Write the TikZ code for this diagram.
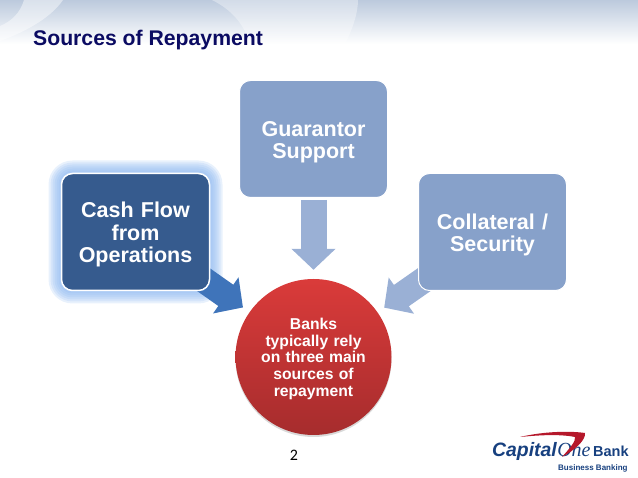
\documentclass[tikz,border=0pt]{standalone}
\usepackage{fontspec}
\setmainfont{Liberation Sans}
\newfontfamily\pagefont{Carlito}
\newfontfamily\swashfont{Liberation Serif}
\usepackage{tikz}
\usetikzlibrary{arrows.meta, backgrounds, shadows}
\definecolor{titlenavy}{HTML}{0B0B62}
\definecolor{softblue}{HTML}{87A1CA}
\definecolor{deepblue}{HTML}{365B8E}
\definecolor{glowblue}{HTML}{8DB8F0}
\definecolor{arrowsoft}{HTML}{9AB0D5}
\definecolor{arrowdeep}{HTML}{3F74BA}
\definecolor{logonavy}{HTML}{17407F}
\definecolor{logored}{HTML}{B5182B}
\definecolor{bandblue}{HTML}{BCCADD}
\definecolor{redtop}{HTML}{DA3B3A}
\definecolor{redbottom}{HTML}{A62C2D}
\tikzstyle{source} = [rectangle, rounded corners=11pt, minimum width=148pt, minimum height=117pt, inner sep=0pt, text width=140pt, align=center, text=white, fill=softblue, draw=white, line width=1pt, font=\bfseries\fontsize{21.5}{22.5}\selectfont, execute at begin node=\rule{0pt}{21pt}]
\tikzstyle{active} = [fill=deepblue, line width=1.5pt]
\tikzstyle{glow} = [rectangle, fill=glowblue, opacity=.2, inner sep=0pt]
\tikzstyle{result} = [circle, minimum size=156pt, inner sep=0pt, text width=124pt, align=center, text=white, top color=redtop, bottom color=redbottom, font=\bfseries\fontsize{15.7}{16.8}\selectfont, execute at begin node=\rule{0pt}{15pt}, drop shadow={shadow xshift=0pt, shadow yshift=-2pt, opacity=.3}]
\tikzstyle{block} = [line width=26pt, -{Triangle[length=21pt,width=43pt]}, color=arrowsoft]
\tikzstyle{logotext} = [inner sep=0pt, anchor=base west, text=logonavy]

\begin{document}
\begin{tikzpicture}[x=1pt, y=-1pt, node distance=93pt]
        \useasboundingbox (0,0) rectangle (638,478);

        % boxes
        \node[source] (Guarantor) at (313.5,139) {Guarantor\\Support};
        \node[source, below of = Guarantor, xshift = 179pt] (Collateral) {Collateral /\\Security};
        \node[source, active, below of = Guarantor, xshift = -178pt] (CashFlow) {Cash Flow\\from\\Operations};
        \node[result, below of = Guarantor, node distance = 218pt] (Banks) {Banks\\typically rely\\on three main\\sources of\\repayment};

        % header text
        \node[inner sep=0pt, anchor=base west, text=titlenavy, font=\bfseries\fontsize{21.2}{24}\selectfont] (Title) at (33,46) {Sources of Repayment};
        \node[inner sep=0pt, anchor=base, font=\pagefont\fontsize{16}{18}\selectfont] (PageNo) at (294,461) {2};

        % logo
        \node[logotext, font=\bfseries\itshape\fontsize{19.4}{20}\selectfont] (LogoCapital) at (492,457) {Capital};
        \node[logotext, font=\swashfont\itshape\fontsize{20}{20}\selectfont] (LogoOne) at (LogoCapital.base east) {One};
        \node[logotext, font=\bfseries\fontsize{14.5}{15}\selectfont] (LogoBank) at (593,457) {Bank};
        \node[logotext, font=\bfseries\fontsize{8}{10}\selectfont] (LogoBusiness) at (558,471) {Business Banking};
        \fill[logored] (520,437) .. controls (545,431) and (572,431) .. (585,433) .. controls (586,440) and (575,450) .. (562,457) .. controls (570,448) and (576,441) .. (575,437) .. controls (560,434) and (540,435) .. (520,437) -- cycle;

        \begin{pgfonlayer}{background}
            % header band
            \shade[top color=bandblue, bottom color=white] (0,0) rectangle (638,44);
            \fill[white, opacity=.45] (24,0) .. controls (20,14) and (10,22) .. (0,26) -- (0,41) .. controls (30,30) and (52,16) .. (63,0) -- cycle;
            \fill[white, opacity=.35] (212,0) .. controls (232,10) and (244,24) .. (250,44) -- (345,44) .. controls (352,30) and (358,14) .. (358,0) -- cycle;

            % glow round the first box
            \foreach \g in {3,5,7,9,11,13}
                \node[glow, rounded corners=11pt+\g pt, minimum width=148pt+2*\g pt, minimum height=117pt+2*\g pt] (Glow\g) at (CashFlow) {};

            % arrows
            \draw[block, shorten >=9pt, shorten <=2pt] (Guarantor) -- (Banks);
            \draw[block, shorten >=8pt, shorten <=-12pt] (Collateral) -- (Banks);
            \draw[block, color=arrowdeep, shorten >=8pt, shorten <=-12pt] (CashFlow) -- (Banks);
        \end{pgfonlayer}
\end{tikzpicture}
\end{document}
